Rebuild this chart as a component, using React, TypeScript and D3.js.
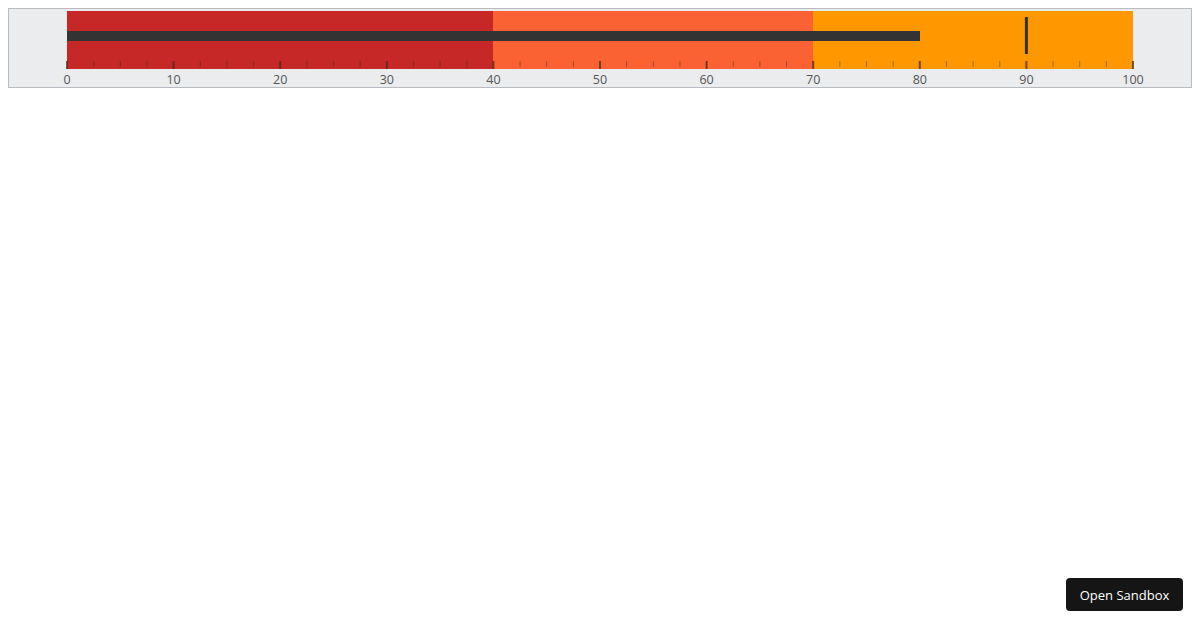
import { useRef, useEffect } from 'react';
import * as d3 from 'd3';

// Bullet chart: qualitative bands, a measure bar and a target marker.
const BAND_ENDS = [40, 70, 100];
const BAND_COLORS = ['#C62828', '#FA6233', '#FF9800'];
const MEASURE = 80;
const TARGET = 90;
const MAJOR_TICKS = [0, 10, 20, 30, 40, 50, 60, 70, 80, 90, 100];

const WIDTH = 1184;
const HEIGHT = 80;

export default function App() {
  const svgRef = useRef<SVGSVGElement>(null);

  useEffect(() => {
    const svg = d3.select(svgRef.current);
    svg.selectAll('*').remove();

    const x = d3.scaleLinear().domain([0, 100]).range([59, 1125]);

    // background panel
    svg.append('rect')
      .attr('x', 0.5).attr('y', 0.5)
      .attr('width', WIDTH - 1).attr('height', HEIGHT - 1)
      .attr('fill', '#EBECEE').attr('stroke', '#B8BCC0').attr('stroke-width', 1);

    // qualitative bands
    let start = 0;
    BAND_ENDS.forEach((end, i) => {
      svg.append('rect')
        .attr('x', x(start)).attr('y', 3)
        .attr('width', x(end) - x(start)).attr('height', 58)
        .attr('fill', BAND_COLORS[i])
        .attr('shape-rendering', 'crispEdges');
      start = end;
    });

    // measure bar
    svg.append('rect')
      .attr('x', x(0)).attr('y', 23)
      .attr('width', x(MEASURE) - x(0)).attr('height', 10)
      .attr('fill', '#333333')
      .attr('shape-rendering', 'crispEdges');

    // target marker
    svg.append('rect')
      .attr('x', x(TARGET) - 1.5).attr('y', 9)
      .attr('width', 3).attr('height', 37)
      .attr('fill', '#333333');

    // minor ticks every 2.5
    const minor = d3.range(0, 100.01, 2.5).filter((v) => v % 10 !== 0);
    for (const v of minor) {
      svg.append('line')
        .attr('x1', x(v)).attr('x2', x(v))
        .attr('y1', 53).attr('y2', 59)
        .attr('stroke', 'rgba(60,40,20,0.45)').attr('stroke-width', 1);
    }

    // major ticks and labels
    for (const v of MAJOR_TICKS) {
      svg.append('line')
        .attr('x1', x(v)).attr('x2', x(v))
        .attr('y1', 53).attr('y2', 61)
        .attr('stroke', 'rgba(70,45,20,0.75)').attr('stroke-width', 2);
      svg.append('text')
        .attr('x', x(v)).attr('y', 75.5)
        .attr('text-anchor', 'middle')
        .attr('font-family', '"Open Sans", sans-serif')
        .attr('font-size', 12.5)
        .attr('fill', '#555')
        .text(String(v));
    }
  }, []);

  return (
    <div style={{ position: 'relative', width: 1184, height: 614 }}>
      <svg ref={svgRef} width={WIDTH} height={HEIGHT} style={{ display: 'block' }} />
      <div
        style={{
          position: 'absolute',
          left: 1058,
          top: 570,
          width: 117,
          height: 33,
          background: '#151515',
          color: '#fff',
          borderRadius: 4,
          fontFamily: '"Open Sans", sans-serif',
          fontSize: 13,
          display: 'flex',
          alignItems: 'center',
          justifyContent: 'center',
        }}
      >
        Open Sandbox
      </div>
    </div>
  );
}
